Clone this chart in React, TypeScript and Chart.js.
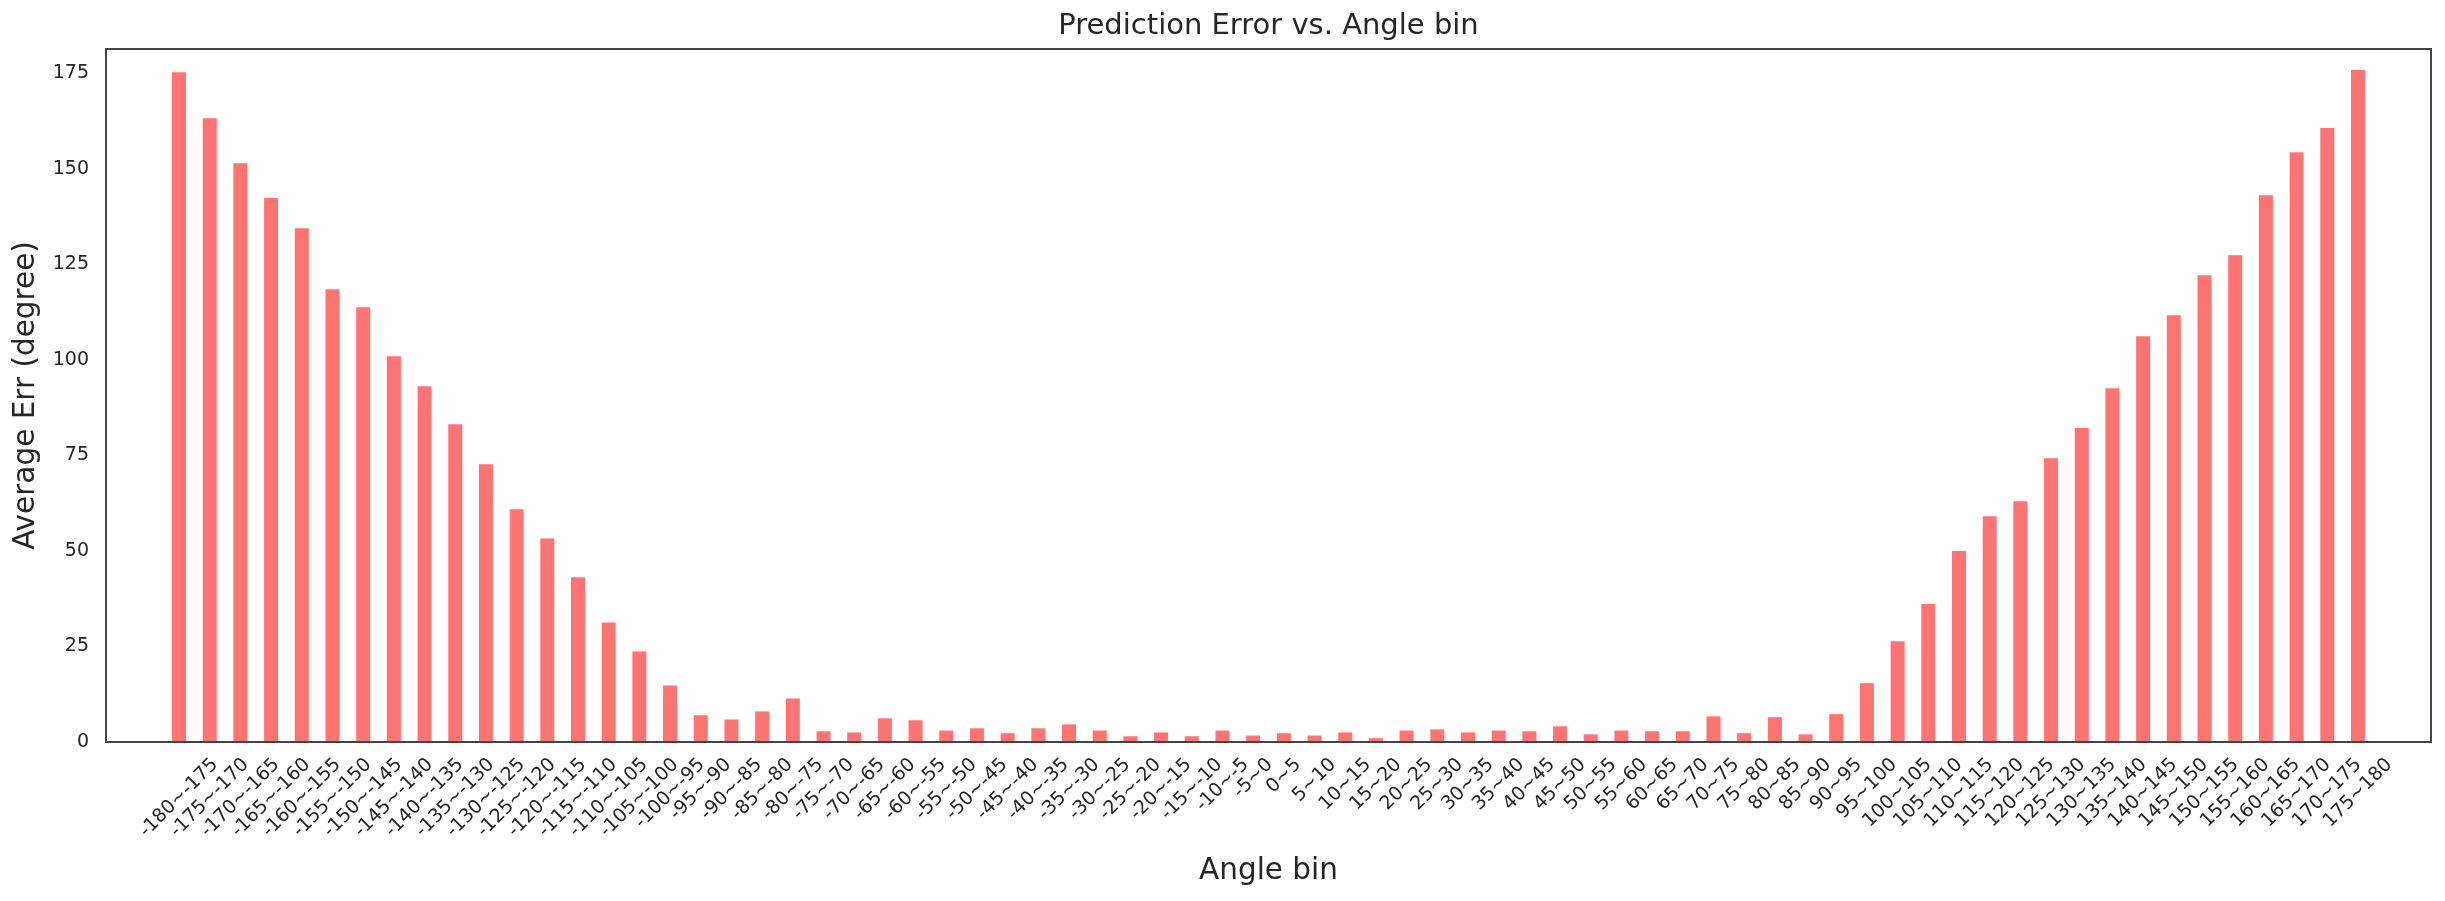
import React, { useEffect, useRef } from 'react';
import { Chart, registerables } from 'chart.js';

Chart.register(...registerables);

const angleBins = [
  '-180~-175', '-175~-170', '-170~-165', '-165~-160', '-160~-155', '-155~-150',
  '-150~-145', '-145~-140', '-140~-135', '-135~-130', '-130~-125', '-125~-120',
  '-120~-115', '-115~-110', '-110~-105', '-105~-100', '-100~-95', '-95~-90',
  '-90~-85', '-85~-80', '-80~-75', '-75~-70', '-70~-65', '-65~-60',
  '-60~-55', '-55~-50', '-50~-45', '-45~-40', '-40~-35', '-35~-30',
  '-30~-25', '-25~-20', '-20~-15', '-15~-10', '-10~-5', '-5~0',
  '0~5', '5~10', '10~15', '15~20', '20~25', '25~30',
  '30~35', '35~40', '40~45', '45~50', '50~55', '55~60',
  '60~65', '65~70', '70~75', '75~80', '80~85', '85~90',
  '90~95', '95~100', '100~105', '105~110', '110~115', '115~120',
  '120~125', '125~130', '130~135', '135~140', '140~145', '145~150',
  '150~155', '155~160', '160~165', '165~170', '170~175', '175~180',
];

const avgErr = [
  175.3, 163.3, 151.5, 142.4, 134.5, 118.5, 113.8, 101.0, 93.1, 83.2,
  72.7, 60.9, 53.3, 43.1, 31.3, 23.7, 14.8, 7.0, 5.9, 8.0, 11.4,
  2.8, 2.5, 6.2, 5.7, 3.0, 3.6, 2.3, 3.6, 4.6, 3.0, 1.5, 2.5, 1.5, 3.0,
  1.7, 2.3, 1.7, 2.5, 1.0, 3.0, 3.3, 2.5, 3.0, 2.8, 4.1, 2.0, 3.0, 2.8, 2.8,
  6.7, 2.3, 6.5, 2.0, 7.3, 15.4, 26.4, 36.1, 50.0, 59.1, 63.0, 74.3, 82.2,
  92.6, 106.2, 111.7, 122.2, 127.4, 143.1, 154.4, 160.7, 175.9,
];

const yTicks = [0, 25, 50, 75, 100, 125, 150, 175];

const FONT = "'DejaVu Sans'";
const TEXT = '#262626';

const decorPlugin = {
  id: 'mplDecor',
  afterDraw(chart: any) {
    const { ctx, chartArea: a } = chart;
    const xs = chart.scales.x;
    ctx.save();
    ctx.strokeStyle = '#444444';
    ctx.lineWidth = 2;
    ctx.strokeRect(a.left, a.top, a.right - a.left, a.bottom - a.top);
    ctx.font = `19px ${FONT}`;
    ctx.fillStyle = TEXT;
    ctx.textAlign = 'center';
    ctx.textBaseline = 'middle';
    const s = Math.SQRT1_2;
    const h = 22;
    const y0 = a.bottom + 12;
    angleBins.forEach((lab, i) => {
      const w = ctx.measureText(lab).width;
      const cx = xs.getPixelForValue(i);
      const cy = y0 + ((w + h) * s) / 2;
      ctx.save();
      ctx.translate(cx, cy);
      ctx.rotate(-Math.PI / 4);
      ctx.fillText(lab, 0, 0);
      ctx.restore();
    });
    ctx.restore();
  },
};

export default function App() {
  const ref = useRef<HTMLCanvasElement | null>(null);

  useEffect(() => {
    if (!ref.current) return;
    const chart = new Chart(ref.current, {
      type: 'bar',
      data: {
        datasets: [
          {
            label: 'Average Err',
            data: avgErr.map((v, i) => ({ x: i, y: v })),
            backgroundColor: 'rgb(255,115,115)',
            borderWidth: 0,
            barPercentage: 0.456,
            categoryPercentage: 1,
          },
        ],
      },
      options: {
        animation: false,
        responsive: false,
        devicePixelRatio: 1,
        events: [],
        layout: { padding: { left: 0, right: 14, top: 0, bottom: 0 } },
        plugins: {
          legend: { display: false },
          tooltip: { enabled: false },
          title: {
            display: true,
            fullSize: false,
            text: 'Prediction Error vs. Angle bin',
            color: TEXT,
            font: { family: FONT, size: 29, weight: 'normal' },
            padding: { top: 9.3, bottom: 4.9 },
          },
        },
        scales: {
          x: {
            type: 'linear',
            min: -2.38,
            max: 73.38,
            offset: false,
            grid: { display: false, drawTicks: false },
            border: { display: false },
            ticks: { display: false },
            afterFit: (s: any) => {
              s.height = 159;
            },
            title: {
              display: true,
              text: 'Angle bin',
              color: TEXT,
              font: { family: FONT, size: 29.5 },
              padding: { top: 0, bottom: 12.3 },
            },
          },
          y: {
            min: 0,
            max: 181.4,
            grid: { display: false, drawTicks: false },
            border: { display: false },
            afterBuildTicks: (s: any) => {
              s.ticks = yTicks.map((v) => ({ value: v }));
            },
            afterFit: (s: any) => {
              s.width = 106;
            },
            ticks: {
              color: TEXT,
              font: { family: FONT, size: 19 },
              padding: 17,
            },
            title: {
              display: true,
              text: 'Average Err (degree)',
              color: TEXT,
              font: { family: FONT, size: 29.5 },
              padding: { top: 8.3, bottom: 0 },
            },
          },
        },
      },
      plugins: [decorPlugin],
    });
    return () => chart.destroy();
  }, []);

  return (
    <div style={{ position: 'absolute', left: 0, top: 0, width: 2445, height: 901, background: '#fff' }}>
      <canvas ref={ref} width={2445} height={901} style={{ display: 'block' }} />
    </div>
  );
}
